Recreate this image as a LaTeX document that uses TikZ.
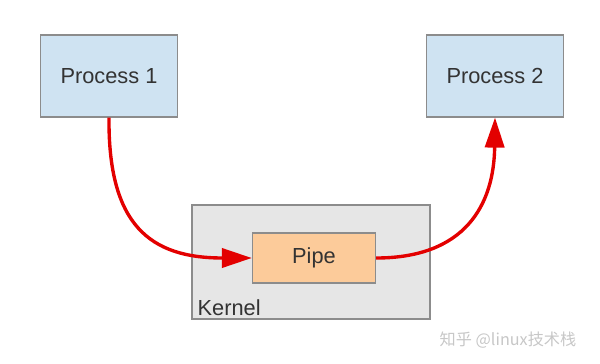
\documentclass[tikz,border=0pt]{standalone}
\usepackage{fontspec}
\setmainfont{Liberation Sans}
\newfontfamily\cjkfont{Noto Sans CJK SC}
\usepackage{tikz}
\usetikzlibrary{positioning,arrows.meta}
\definecolor{procblue}{HTML}{CFE3F2}
\definecolor{kernelgray}{HTML}{E6E6E6}
\definecolor{pipeorange}{HTML}{FCCB9A}
\definecolor{flowred}{HTML}{E30000}
\definecolor{textgray}{HTML}{333333}

\begin{document}
\begin{tikzpicture}[x=0.025cm,y=-0.025cm,
 box/.style={draw=black!45,line width=0.8pt,align=center,inner sep=0pt,
 font=\fontsize{15.5}{18}\selectfont,text=textgray},
 proc/.style={box,fill=procblue,minimum width=3.43cm,minimum height=2.05cm},
 kern/.style={box,fill=kernelgray,minimum width=5.95cm,minimum height=2.85cm},
 pipebox/.style={box,fill=pipeorange,minimum width=3.08cm,minimum height=1.25cm},
 flow/.style={-{Triangle[length=7.5mm,width=4.8mm]},draw=flowred,fill=flowred,line width=2.4pt}]
\useasboundingbox (0,0) rectangle (600,363);
\node[proc] (p1) at (109,76) {Process 1};
\node[proc] (p2) at (495,76) {Process 2};
\node[kern] (kernel) at (311,262) {};
\node[pipebox] (pipe) at (314,258) {Pipe};
\node[anchor=south west,inner sep=0pt,font=\fontsize{15.5}{18}\selectfont,text=textgray]
 (klabel) at ([xshift=1.5mm,yshift=1mm]kernel.south west) {Kernel};
\draw[flow,fill=none] (p1.south) .. controls (108,225) and (150,258) .. (pipe.west);
\draw[flow,fill=none] (pipe.east) .. controls (465,258) and (494,205) .. (p2.south);
% watermark
\node[font=\cjkfont\fontsize{11.5}{13}\selectfont,text=black!22] (mark) at (508,340) {知乎 @linux技术栈};
\end{tikzpicture}
\end{document}
